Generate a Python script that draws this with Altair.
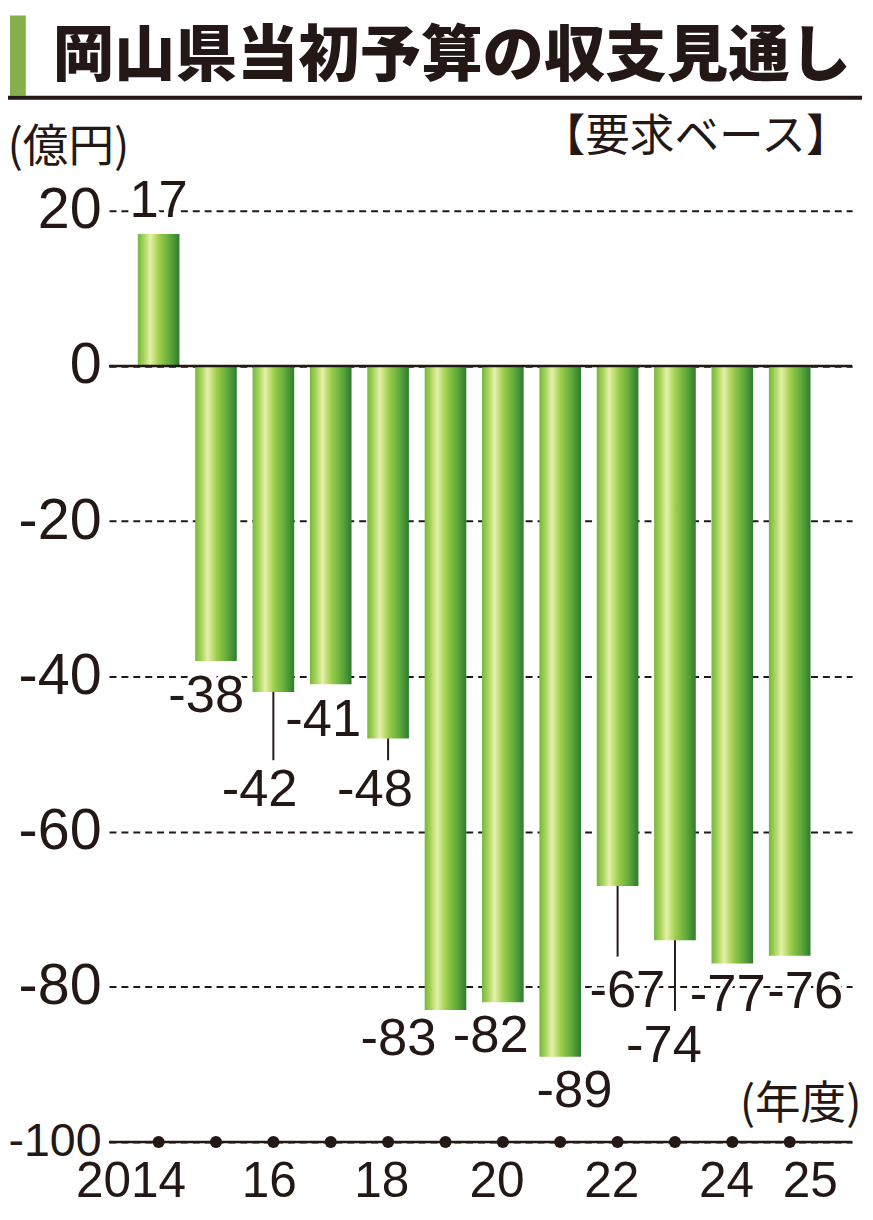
import altair as alt
import pandas as pd

# ---- data ----
years = list(range(2014, 2026))
values = [17, -38, -42, -41, -48, -83, -82, -89, -67, -74, -77, -76]
value_labels = ["17", "-38", "-42", "-41", "-48", "-83", "-82", "-89", "-67", "-74", "-77", "-76"]
# label placement offsets (years, 億円) relative to bar end
label_dx = [0.0, -0.17, -0.24, -0.13, -0.23, -0.82, -0.21, 0.25, 0.17, -0.19, -0.08, 0.27]
label_dy = [4.2, -4.5, -12.7, -4.7, -6.7, -3.7, -4.3, -4.4, -13.6, -13.7, -4.1, -4.7]
leader_end = [None, None, -50.8, None, -50.8, None, None, None, -76.1, -83.1, None, None]

tick_labels = ["2014", "16", "18", "20", "22", "24", "25"]
tick_label_pos = [2013.52, 2015.93, 2017.89, 2019.9, 2021.9, 2023.9, 2025.36]
y_ticks = [20, 0, -20, -40, -60, -80, -100]
baselines = [0, -100]

title_text = "岡山県当初予算の収支見通し"
unit_text = "(億円)"
basis_text = "【要求ベース】"
year_unit_text = "(年度)"

INK = "#231815"

df = pd.DataFrame({
    "year": years,
    "value": values,
    "label": value_labels,
    "dx": label_dx,
    "dy": label_dy,
    "leader_end": leader_end,
})
ticks_df = pd.DataFrame({"pos": tick_label_pos, "label": tick_labels})

xscale = alt.Scale(domain=[2013.136, 2026.088], nice=False, zero=False)
yscale = alt.Scale(domain=[-100, 20], nice=False, zero=False)

gradient = alt.LinearGradient(
    gradient="linear", x1=0, x2=1, y1=0, y2=0,
    stops=[
        alt.GradientStop(color="#74b73a", offset=0),
        alt.GradientStop(color="#a9d45e", offset=0.15),
        alt.GradientStop(color="#e6f0a8", offset=0.3),
        alt.GradientStop(color="#9ccd4b", offset=0.52),
        alt.GradientStop(color="#5ea93a", offset=0.78),
        alt.GradientStop(color="#2e7b31", offset=1),
    ],
)

y_axis = alt.Axis(
    values=y_ticks, title=None, domain=False, ticks=False,
    grid=True, gridDash=[7, 5], gridColor=INK, gridWidth=2,
    labelPadding=8, labelColor=INK, labelFont="Liberation Sans",
    labelFontSize={"condition": {"test": "datum.value == -100", "value": 47}, "value": 58},
    labelExpr="'' + datum.value",
)

bars = alt.Chart(df).transform_calculate(
    x0="datum.year - 0.3627", x1="datum.year + 0.3627"
).mark_rect(fill=gradient).encode(
    x=alt.X("x0:Q", scale=xscale, axis=None),
    x2="x1:Q",
    y=alt.Y("value:Q", scale=yscale, axis=y_axis),
    y2=alt.datum(0),
)

base_rules = alt.Chart(pd.DataFrame({"v": baselines})).mark_rule(
    color=INK, strokeWidth=2.6
).encode(
    y=alt.Y("v:Q", scale=yscale),
    x=alt.value(0), x2=alt.value(750),
)

dots = alt.Chart(df).mark_point(filled=True, size=150, color=INK, opacity=1).encode(
    x=alt.X("year:Q", scale=xscale),
    y=alt.datum(-100),
)

leaders = alt.Chart(df).transform_filter("isValid(datum.leader_end)").mark_rule(
    color=INK, strokeWidth=2
).encode(
    x=alt.X("year:Q", scale=xscale),
    y=alt.Y("value:Q", scale=yscale),
    y2="leader_end:Q",
)

lab_base = alt.Chart(df).transform_calculate(
    lx="datum.year + datum.dx", ly="datum.value + datum.dy"
)
halo = lab_base.mark_text(
    font="Liberation Sans", fontSize=53, baseline="middle", align="center",
    stroke="white", strokeWidth=7, strokeJoin="round", fill="white",
).encode(
    x=alt.X("lx:Q", scale=xscale), y=alt.Y("ly:Q", scale=yscale), text="label:N"
)
labels = lab_base.mark_text(
    font="Liberation Sans", fontSize=53, baseline="middle", align="center", color=INK,
).encode(
    x=alt.X("lx:Q", scale=xscale), y=alt.Y("ly:Q", scale=yscale), text="label:N"
)

xlabels = alt.Chart(ticks_df).mark_text(
    font="Liberation Sans", fontSize=50,
    baseline="middle", align="center", color=INK,
).encode(
    x=alt.X("pos:Q", scale=xscale), y=alt.value(980), text="label:N"
)

green_tab = alt.Chart(pd.DataFrame({"a": [1]})).mark_rect(color="#86b04c").encode(
    x=alt.value(-100), x2=alt.value(-84), y=alt.value(-197), y2=alt.value(-116)
)
underline = alt.Chart(pd.DataFrame({"a": [1]})).mark_rule(color=INK, strokeWidth=4).encode(
    x=alt.value(-102), x2=alt.value(760), y=alt.value(-114)
)
title = alt.Chart(pd.DataFrame({"t": [title_text]})).mark_text(
    font="Noto Sans CJK JP", fontWeight=900, fontSize=62, color=INK,
    align="center", baseline="middle",
).encode(x=alt.value(346), y=alt.value(-155), text="t:N")

unit = alt.Chart(pd.DataFrame({"t": [unit_text]})).mark_text(
    font="Noto Sans CJK JP", fontSize=46, color=INK, align="center", baseline="middle",
).encode(x=alt.value(-41), y=alt.value(-63), text="t:N")

basis = alt.Chart(pd.DataFrame({"t": [basis_text]})).mark_text(
    font="Noto Sans CJK JP", fontSize=45, color=INK, align="center", baseline="middle",
).encode(x=alt.value(592), y=alt.value(-74), text="t:N")

nendo = alt.Chart(pd.DataFrame({"t": [year_unit_text]})).mark_text(
    font="Noto Sans CJK JP", fontSize=46, color=INK, align="center", baseline="middle",
).encode(x=alt.value(698), y=alt.value(903), text="t:N")

chart = alt.layer(
    bars, base_rules, dots, leaders, halo, labels, xlabels,
    green_tab, underline, title, unit, basis, nendo,
).properties(
    width=750, height=940,
    autosize=alt.AutoSizeParams(type="none"),
    padding={"left": 102, "top": 199, "right": 13, "bottom": 70},
    background="white",
).configure_view(stroke=None)

chart.save("out.html", embed_options={"renderer": "svg", "actions": False})
